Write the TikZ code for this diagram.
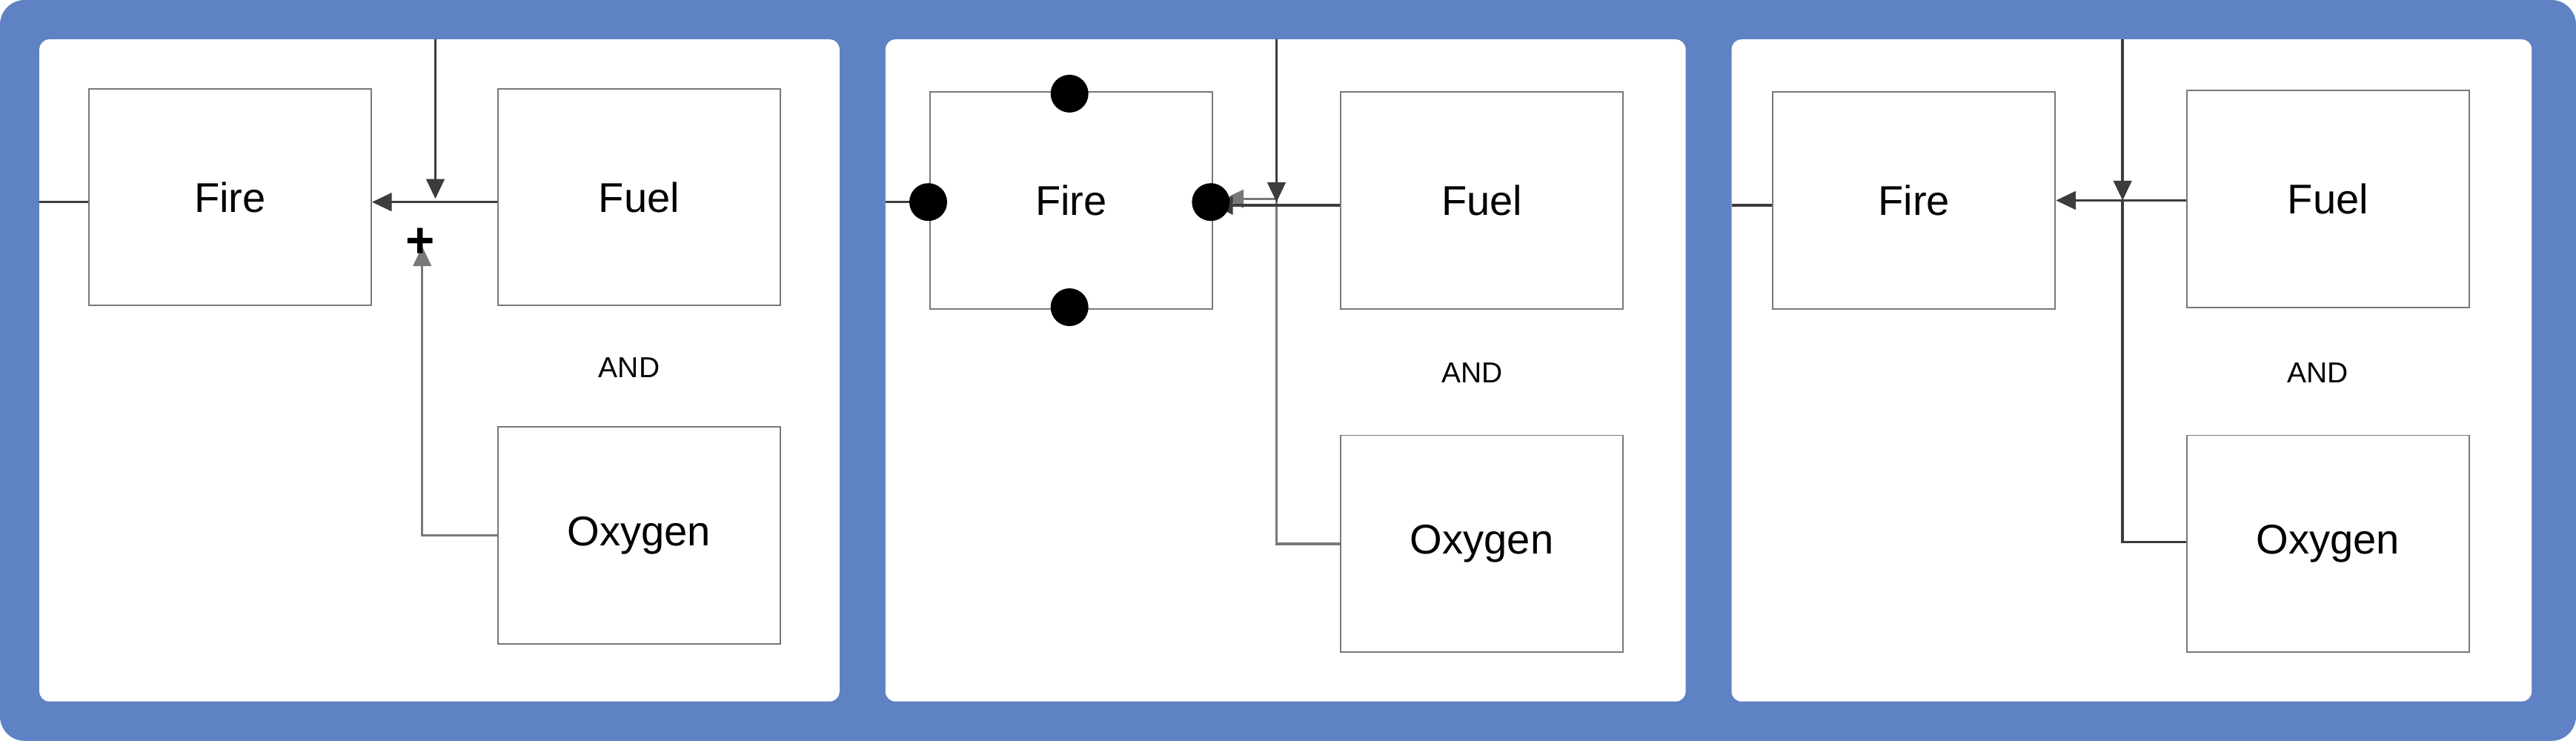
\documentclass[tikz,border=0pt]{standalone}
\usepackage{fontspec}
\setmainfont{Liberation Sans}
\usetikzlibrary{arrows.meta,positioning,calc}
\definecolor{frameblue}{RGB}{95,130,196}
\definecolor{boxline}{RGB}{120,120,120}
\definecolor{wire}{RGB}{60,60,60}
\tikzset{
  box/.style={draw=boxline, line width=0.5pt, minimum width=3.44cm, minimum height=2.64cm, inner sep=0pt, font=\Large},
  panel/.style={fill=white, rounded corners=0.12cm},
  link/.style={draw=wire, line width=0.9pt},
  greylink/.style={draw=boxline, line width=0.9pt},
  tip/.style={-{Triangle[length=0.24cm,width=0.22cm]}},
  dot/.style={circle, fill=black, minimum size=0.46cm, inner sep=0pt},
  andlabel/.style={font=\normalsize}
}
\begin{document}
\begin{tikzpicture}[x=0.02cm,y=-0.02cm]
    % Frame and panels
    \fill[frameblue, rounded corners=0.3cm] (0,0) rectangle (1568,451);
    \fill[panel] (24,24) rectangle (511,427);
    \fill[panel] (539,24) rectangle (1026,427);
    \fill[panel] (1054,24) rectangle (1541,427);

    % First panel
    \node[box] (fireA) at (140,120) {Fire};
    \node[box] (fuelA) at (389,120) {Fuel};
    \node[box] (oxyA) at (389,326) {Oxygen};
    \node[andlabel] (andA) at (383,224) {AND};
    \coordinate (inA) at (24,123);
    \coordinate (topA) at (265,24);
    \coordinate (plusA) at (257,150);
    \draw[link] (inA) -- (fireA.west |- inA);
    \draw[link, tip] (topA) -- (265,121);
    \draw[link, tip] (fuelA.west |- 0,123) -- (fireA.east |- 0,123);
    \draw[greylink, tip] (oxyA.west) -- (257,326) -- (plusA);
    \node[font=\bfseries\LARGE] (plus) at (256,148) {+};

    % Second panel
    \node[box] (fireB) at (652,122) {Fire};
    \node[box] (fuelB) at (902,122) {Fuel};
    \node[box] (oxyB) at (902,331) {Oxygen};
    \node[andlabel] (andB) at (896,227) {AND};
    \coordinate (inB) at (539,123);
    \coordinate (topB) at (777,24);
    \draw[link] (inB) -- (fireB.west |- inB);
    \draw[greylink, tip] (oxyB.west) -- (777,331) -- (777,121) -- (745,121);
    \draw[link, tip] (topB) -- (777,123);
    \draw[link, tip] (fuelB.west |- 0,125) -- (fireB.east |- 0,125);
    \node[dot] (dotN) at (651,57) {};
    \node[dot] (dotW) at (565,123) {};
    \node[dot] (dotE) at (737,123) {};
    \node[dot] (dotS) at (651,187) {};

    % Third panel
    \node[box] (fireC) at (1165,122) {Fire};
    \node[box] (fuelC) at (1417,121) {Fuel};
    \node[box] (oxyC) at (1417,331) {Oxygen};
    \node[andlabel] (andC) at (1411,227) {AND};
    \coordinate (inC) at (1054,125);
    \coordinate (topC) at (1292,24);
    \draw[link] (inC) -- (fireC.west |- inC);
    \draw[link] (oxyC.west |- 0,330) -- (1292,330) -- (1292,122);
    \draw[link, tip] (topC) -- (1292,122);
    \draw[link, tip] (fuelC.west |- 0,122) -- (fireC.east |- 0,122);
\end{tikzpicture}
\end{document}
